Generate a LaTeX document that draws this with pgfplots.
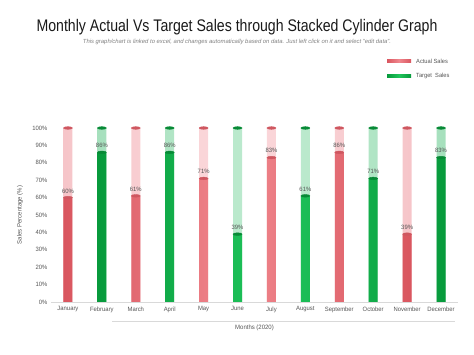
\documentclass[border=0pt]{standalone}
\usepackage{pgfplots}
\pgfplotsset{compat=1.18}
\usepackage{fontspec}
\setmainfont{Liberation Sans}
\newfontfamily\titlefont[FakeStretch=0.84]{Liberation Sans}
\newfontfamily\narrowfont[FakeStretch=0.95]{Liberation Sans}
\definecolor{rdMid}{HTML}{F0868D}
\definecolor{rdEdge}{HTML}{D9565F}
\definecolor{rdLight}{HTML}{FBD9DC}
\definecolor{rdLightE}{HTML}{F6C5C9}
\definecolor{rdCap}{HTML}{CF5760}
\definecolor{gnMid}{HTML}{20C55C}
\definecolor{gnEdge}{HTML}{079A3C}
\definecolor{gnLight}{HTML}{BFEBD0}
\definecolor{gnLightE}{HTML}{A6E0BD}
\definecolor{gnCap}{HTML}{078A36}
\definecolor{txtgray}{HTML}{555555}
\begin{document}
\begin{tikzpicture}[x=1pt,y=1pt]
\path[use as bounding box] (0,0) rectangle (474,355);
\node[font=\titlefont\fontsize{16.8}{18}\selectfont, text=black!90] at (237,328) {Monthly Actual Vs Target Sales through Stacked Cylinder Graph};
\node[font=\fontsize{5.9}{7}\selectfont\itshape, text=gray] at (237,313) {This graph/chart is linked to excel, and changes automatically based on data. Just left click on it and select "edit data".};
% legend
\shade[left color=rdEdge, right color=rdEdge, middle color=rdMid] (387,292) rectangle (411,295);
\node[anchor=west, font=\narrowfont\fontsize{6}{7}\selectfont, text=txtgray, inner sep=0pt] at (416,293.5) {Actual Sales};
\shade[left color=gnEdge, right color=gnEdge, middle color=gnMid] (387,277.5) rectangle (411,280.5);
\node[anchor=west, font=\narrowfont\fontsize{6}{7}\selectfont, text=txtgray, inner sep=0pt] at (416,279) {Target\ \ Sales};
% decorative line above x title
\draw[gray!30, line width=0.8pt] (112,34) -- (455,34);
\begin{axis}[
  at={(51pt,53pt)}, anchor=south west,
  scale only axis, width=407pt, height=174pt,
  xmin=-0.5, xmax=11.5, ymin=0, ymax=100,
  clip=false,
  axis lines=left,
  x axis line style={draw=gray!30, -},
  y axis line style={draw=none},
  major tick length=0pt,
  xtick={0,...,11},
  xticklabels={January,February,March,April,May,June,July,August,September,October,November,December},
  ytick={0,10,...,100},
  yticklabel={\pgfmathprintnumber{\tick}\%},
  /pgf/number format/assume math mode=true,
  tick label style={font=\narrowfont\fontsize{6.2}{7}\selectfont, text=txtgray},
  xticklabel style={yshift=-1pt},
  xlabel={Months (2020)},
  ylabel={Sales Percentage (\%)},
  label style={font=\narrowfont\fontsize{6.3}{7}\selectfont, text=txtgray},
  xlabel style={at={(axis description cs:0.5,0)}, anchor=center, yshift=-26pt},
  ylabel style={at={(axis description cs:0,0.5)}, anchor=center, yshift=31pt},
  ybar, bar width=9pt, bar shift=0pt,
]
% backgrounds to 100
\addplot[draw=none, left color=rdLightE, right color=rdLightE, middle color=rdLight] coordinates {(0,100) (2,100) (4,100) (6,100) (8,100) (10,100)};
\addplot[draw=none, left color=gnLightE, right color=gnLightE, middle color=gnLight] coordinates {(1,100) (3,100) (5,100) (7,100) (9,100) (11,100)};
% values
\addplot[draw=none, left color=rdEdge, right color=rdEdge, middle color=rdMid,
  nodes near coords={\pgfmathprintnumber{\pgfplotspointmeta}\%},
  nodes near coords style={font=\narrowfont\fontsize{6.2}{7}\selectfont, text=txtgray, anchor=south, yshift=1pt}]
  coordinates {(0,60) (2,61) (4,71) (6,83) (8,86) (10,39)};
\addplot[draw=none, left color=gnEdge, right color=gnEdge, middle color=gnMid,
  nodes near coords={\pgfmathprintnumber{\pgfplotspointmeta}\%},
  nodes near coords style={font=\narrowfont\fontsize{6.2}{7}\selectfont, text=txtgray, anchor=south, yshift=1pt}]
  coordinates {(1,86) (3,86) (5,39) (7,61) (9,71) (11,83)};
% caps
\addplot[only marks, mark=*, mark size=4.5pt, mark options={yscale=0.3, fill=rdCap, draw=rdCap}] coordinates {(0,100) (2,100) (4,100) (6,100) (8,100) (10,100)};
\addplot[only marks, mark=*, mark size=4.5pt, mark options={yscale=0.3, fill=gnCap, draw=gnCap}] coordinates {(1,100) (3,100) (5,100) (7,100) (9,100) (11,100)};
\addplot[only marks, mark=*, mark size=4.5pt, mark options={yscale=0.3, fill=rdCap, draw=rdCap}] coordinates {(0,60) (2,61) (4,71) (6,83) (8,86) (10,39)};
\addplot[only marks, mark=*, mark size=4.5pt, mark options={yscale=0.3, fill=gnCap, draw=gnCap}] coordinates {(1,86) (3,86) (5,39) (7,61) (9,71) (11,83)};
\end{axis}
\end{tikzpicture}
\end{document}
